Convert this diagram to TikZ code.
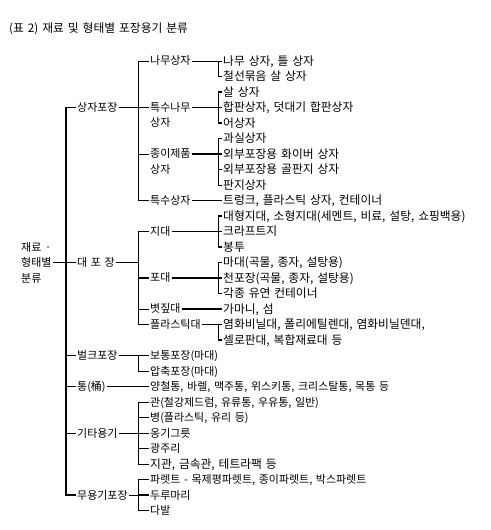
\documentclass[tikz,border=0pt]{standalone}
\usepackage{fontspec}
\newfontfamily\kr{Noto Sans CJK KR}
\newfontfamily\krw[WordSpace=1.5]{Noto Sans CJK KR}
\begin{document}
\begin{tikzpicture}[x=1bp,y=-15.5bp,
  lbl/.style={font=\kr\fontsize{11}{15.5}\selectfont, inner sep=1bp, text height=8.5bp, text depth=0.5bp, anchor=west},
  lblw/.style={font=\krw\fontsize{11.8}{15.5}\selectfont, inner sep=1bp, text height=8.8bp, text depth=0.5bp, anchor=west},
  thn/.style={line width=0.8bp},
  thk/.style={line width=1.7bp}]
\fill[white] (0,-2.935) rectangle (491,31.258);
\useasboundingbox (0,-2.935) rectangle (491,31.258);
% title
\node[lblw] (title) at (8,-1.1) {(표 2) 재료 및 형태별 포장용기 분류};
% root
\node[font=\kr\fontsize{11}{15.5}\selectfont, align=left, anchor=west, inner sep=1bp] (root) at (20,14) {재료 ·\\형태별\\분류};
% level 2
\node[lbl] (sz) at (76,4) {상자포장};
\node[lbl] (dp) at (76,14) {대 포 장};
\node[lbl] (bk) at (76,20) {벌크포장};
\node[lbl] (tong) at (76,22) {통(桶)};
\node[lbl] (gt) at (76,25) {기타용기};
\node[lbl] (mu) at (76,29) {무용기포장};
% level 3
\node[lbl] (ns) at (149,1) {나무상자};
\node[lbl] (sn) at (149,4) {특수나무};
\node[lbl] (snb) at (149,5) {상자};
\node[lbl] (jj) at (149,7) {종이제품};
\node[lbl] (jjb) at (149,8) {상자};
\node[lbl] (ts) at (149,10) {특수상자};
\node[lbl] (jd) at (149,12) {지대};
\node[lbl] (pd) at (149,15) {포대};
\node[lbl] (bj) at (149,17) {볏짚대};
\node[lbl] (ps) at (149,18) {플라스틱대};
\node[lbl] (bt) at (149,20) {보통포장(마대)};
\node[lbl] (ap) at (149,21) {압축포장(마대)};
\node[lbl] (yc) at (149,22) {양철통, 바렐, 맥주통, 위스키통, 크리스탈통, 목통 등};
\node[lbl] (gw) at (149,23) {관(철강제드럼, 유류통, 우유통, 일반)};
\node[lbl] (bg) at (149,24) {병(플라스틱, 유리 등)};
\node[lbl] (og) at (149,25) {옹기그릇};
\node[lbl] (gj) at (149,26) {광주리};
\node[lblw] (jg) at (149,27) {지관, 금속관, 테트라팩 등};
\node[lbl] (pr) at (149,28) {파렛트 - 목제평파렛트, 종이파렛트, 박스파렛트};
\node[lbl] (dr) at (149,29) {두루마리};
\node[lbl] (db) at (149,30) {다발};
% level 4
\node[lblw] (a1) at (222,1) {나무 상자, 틀 상자};
\node[lblw] (a2) at (222,2) {철선묶음 살 상자};
\node[lblw] (a3) at (222,3) {살 상자};
\node[lblw] (a4) at (222,4) {합판상자, 덧대기 합판상자};
\node[lblw] (a5) at (222,5) {어상자};
\node[lblw] (a6) at (222,6) {과실상자};
\node[lblw] (a7) at (222,7) {외부포장용 화이버 상자};
\node[lblw] (a8) at (222,8) {외부포장용 골판지 상자};
\node[lblw] (a9) at (222,9) {판지상자};
\node[lblw] (a10) at (222,10) {트렁크, 플라스틱 상자, 컨테이너};
\node[lblw] (a11) at (222,11) {대형지대, 소형지대(세멘트, 비료, 설탕, 쇼핑백용)};
\node[lblw] (a12) at (222,12) {크라프트지};
\node[lblw] (a13) at (222,13) {봉투};
\node[lblw] (a14) at (222,14) {마대(곡물, 종자, 설탕용)};
\node[lblw] (a15) at (222,15) {천포장(곡물, 종자, 설탕용)};
\node[lblw] (a16) at (222,16) {각종 유연 컨테이너};
\node[lblw] (a17) at (222,17) {가마니, 섬};
\node[lblw] (a18) at (222,18) {염화비닐대, 폴리에틸렌대, 염화비닐덴대,};
\node[lblw] (a19) at (222,19) {셀로판대, 복합재료대 등};
\coordinate (v2) at (138,0);
% trunk
\draw[thk] ([xshift=-10bp]sz.west) |- (mu.west);
\draw[thn] ([xshift=-10bp]sz.west) -- (sz.west);
\draw[thk] (root.east) -- (dp.west);
\draw[thk] ([xshift=-10bp]bk.west) -- (bk.west);
\draw[thn] ([xshift=-10bp]tong.west) -- (tong.west);
\draw[thn] ([xshift=-10bp]gt.west) -- (gt.west);
% level 2 -> 3
\draw[thn] (sz.east) -- (sn.west);
\draw[thn] (ns.west) -- ++(-11,0) |- (ts.west);
\draw[thn] ([xshift=-11bp]jj.west) -- (jj.west);
\draw[thk] ([xshift=-11bp]ts.west) -- (ts.west);
\draw[thn] (dp.east) -- (dp.east -| v2);
\draw[thn] (jd.west) -- ++(-11,0) |- (ps.west);
\draw[thk] ([xshift=-11bp]jd.west) -- (jd.west);
\draw[thk] ([xshift=-11bp]pd.west) -- (pd.west);
\draw[thn] ([xshift=-11bp]bj.west) -- (bj.west);
\draw[thk] ([xshift=-11bp]ps.west) -- (ps.west);
\draw[thk] (bk.east) -- (bt.west);
\draw[thn] ([xshift=-11bp]bt.west) |- (ap.west);
\draw[thk] (tong.east) -- (yc.west);
\draw[thn] (gt.east) -- (og.west);
\draw[thn] (gw.west) -- ++(-11,0) |- (jg.west);
\draw[thn] ([xshift=-11bp]bg.west) -- (bg.west);
\draw[thk] ([xshift=-11bp]gj.west) -- (gj.west);
\draw[thn] (mu.east) -- (dr.west);
\draw[thn] (pr.west) -- ++(-11,0) |- (db.west);
\draw[thk] ([xshift=-11bp]dr.west) -- (dr.west);
% level 3 -> 4
\draw[thn] (ns.east) -- (a1.west);
\draw[thn] ([xshift=-4bp]a1.west) |- (a2.west);
\draw[thk] ([xshift=-4bp]a2.west) -- (a2.west);
\draw[thn] (sn.east) -- (a4.west);
\draw[thn] (a3.west) -- ++(-4,0) |- (a5.west);
\draw[thk] ([xshift=-4bp]a3.west) -- (a3.west);
\draw[thk] ([xshift=-4bp]a5.west) -- (a5.west);
\draw[thk] (jj.east) -- (a7.west);
\draw[thn] (a6.west) -- ++(-4,0) |- (a9.west);
\draw[thk] ([xshift=-4bp]a6.west) -- (a6.west);
\draw[thk] ([xshift=-4bp]a8.west) -- (a8.west);
\draw[thk] (ts.east) -- (a10.west);
\draw[thk] (jd.east) -- (a12.west);
\draw[thn] (a11.west) -- ++(-4,0) |- (a13.west);
\draw[thk] ([xshift=-4bp]a11.west) -- (a11.west);
\draw[thk] ([xshift=-4bp]a13.west) -- (a13.west);
\draw[thk] (pd.east) -- (a15.west);
\draw[thn] (a14.west) -- ++(-4,0) |- (a16.west);
\draw[thk] ([xshift=-4bp]a16.west) -- (a16.west);
\draw[thk] (bj.east) -- (a17.west);
\draw[thn] (ps.east) -- (a18.west);
\draw[thn] ([xshift=-4bp]a18.west) |- (a19.west);
\draw[thk] ([xshift=-4bp]a19.west) -- (a19.west);
\end{tikzpicture}
\end{document}
